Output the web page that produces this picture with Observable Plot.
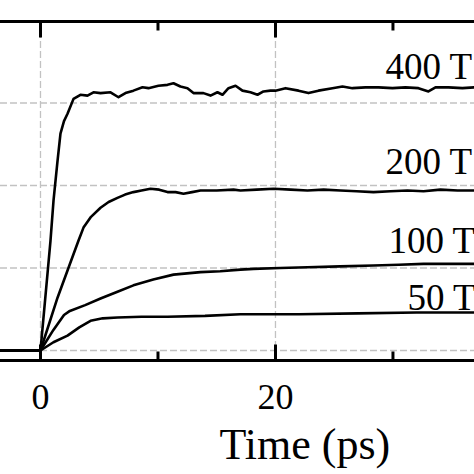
<!DOCTYPE html>
<html><head><meta charset="utf-8">
<script src="https://cdn.jsdelivr.net/npm/d3@7"></script>
<script src="https://cdn.jsdelivr.net/npm/@observablehq/plot@0.6"></script>
<style>
html,body{margin:0;padding:0;background:#fff;overflow:hidden;}
</style>
</head><body><div id="chart"></div>
<script>
// ---- data (time in ps, signal in arbitrary units) ----
const t400 = [-3.4, 0, 0.85, 1.11, 1.45, 1.70, 2.0, 2.30, 2.81, 3.40, 4.00, 4.51, 5.11, 5.96, 6.64, 7.23, 7.91, 8.68, 9.19, 10.04, 10.81, 11.32, 11.91, 12.51, 13.02, 13.87, 14.47, 15.06, 15.49, 16.00, 16.60, 17.19, 17.87, 18.47, 18.98, 19.57, 20.00, 20.85, 21.96, 22.81, 23.66, 24.85, 25.70, 26.55, 27.66, 28.77, 29.96, 31.06, 32.17, 33.02, 33.62, 34.72, 35.91, 36.94];
const v400 = [0, 0, 1.33, 1.82, 2.30, 2.63, 2.78, 2.87, 3.05, 3.10, 3.09, 3.13, 3.12, 3.13, 3.07, 3.12, 3.15, 3.19, 3.18, 3.21, 3.22, 3.24, 3.20, 3.18, 3.12, 3.12, 3.09, 3.13, 3.10, 3.18, 3.21, 3.15, 3.13, 3.10, 3.14, 3.15, 3.15, 3.18, 3.15, 3.12, 3.15, 3.18, 3.20, 3.18, 3.19, 3.19, 3.18, 3.19, 3.18, 3.14, 3.19, 3.19, 3.18, 3.19];

const t200 = [-3.4, 0, 1.45, 2.30, 3.23, 3.66, 4.3, 5.11, 5.8, 6.55, 7.2, 7.91, 8.6, 9.36, 10.1, 10.81, 11.5, 12.17, 12.9, 13.62, 15.0, 16.43, 17.02, 18.4, 19.83, 21.3, 22.72, 24.1, 25.53, 26.9, 28.34, 29.8, 31.23, 32.6, 34.04, 35.5, 36.94];
const v200 = [0, 0, 0.64, 0.97, 1.33, 1.49, 1.62, 1.73, 1.80, 1.85, 1.89, 1.92, 1.94, 1.96, 1.95, 1.92, 1.92, 1.90, 1.92, 1.94, 1.94, 1.95, 1.94, 1.95, 1.96, 1.95, 1.94, 1.95, 1.94, 1.93, 1.92, 1.93, 1.94, 1.93, 1.95, 1.94, 1.94];

const t100 = [-3.4, 0, 1.1, 2.0, 2.5, 3.8, 5.11, 6.5, 7.91, 9.6, 11.32, 13.62, 15.3, 17.02, 18.13, 20.4, 22.72, 25.5, 28.34, 30.5, 32.60, 34.8, 36.94];
const v100 = [0, 0, 0.25, 0.43, 0.48, 0.55, 0.63, 0.71, 0.79, 0.86, 0.92, 0.95, 0.96, 0.98, 0.99, 1.00, 1.01, 1.02, 1.03, 1.04, 1.05, 1.05, 1.05];

const t50 = [-3.4, 0, 1.1, 2.30, 3.3, 4.26, 5.3, 6.55, 8.6, 10.81, 14.0, 17.02, 22.0, 26.98, 32.0, 36.94];
const v50 = [0, 0, 0.10, 0.18, 0.28, 0.36, 0.39, 0.40, 0.41, 0.41, 0.42, 0.44, 0.44, 0.45, 0.46, 0.46];

const seriesNames = ["400 T", "200 T", "100 T", "50 T"];
const xTicksMajor = [0, 20, 40];
const xTickLabels = [0, 20];
const xTicksMinor = [10, 30];
const yGrid = [0, 1, 2, 3];
const xLabel = "Time (ps)";

// ---- build tables ----
const curves = [[t400, v400], [t200, v200], [t100, v100], [t50, v50]];
const rows = [];
curves.forEach(([ts, vs], i) => ts.forEach((t, j) => rows.push({series: seriesNames[i], t, v: vs[j]})));

// label anchors (data units)
const labelRows = [
  {text: "400 T", t: 29.36, v: 3.285},
  {text: "200 T", t: 29.36, v: 2.145},
  {text: "100 T", t: 29.62, v: 1.176},
  {text: "50 T",  t: 31.23, v: 0.497}
];

const xDomain = [-3.404, 36.94];
const yDomain = [-0.121, 3.988];
const xLabelCenter = 22.5;
const font = "Liberation Serif, Times New Roman, serif";
const frameH = 474 - 21 - 114;
const unitsPerPx = (yDomain[1] - yDomain[0]) / frameH;
const majorLen = 16 * unitsPerPx, minorLen = 9 * unitsPerPx;
const tickRows = [
  ...xTicksMajor.map(x => ({x, y1: yDomain[0], y2: yDomain[0] + majorLen})),
  ...xTicksMinor.map(x => ({x, y1: yDomain[0], y2: yDomain[0] + minorLen})),
  ...xTicksMajor.map(x => ({x, y1: yDomain[1], y2: yDomain[1] - majorLen})),
  ...xTicksMinor.map(x => ({x, y1: yDomain[1], y2: yDomain[1] - minorLen}))
];

const plot = Plot.plot({
  width: 474, height: 474,
  marginLeft: 0, marginRight: 0, marginTop: 21, marginBottom: 114,
  style: {fontFamily: font, background: "#fff", overflow: "visible"},
  x: {domain: xDomain, axis: null},
  y: {domain: yDomain, axis: null},
  marks: [
    Plot.gridX(xTicksMajor, {stroke: "#c2c2c2", strokeOpacity: 1, strokeWidth: 1.3, strokeDasharray: "7,3"}),
    Plot.gridY(yGrid, {stroke: "#c2c2c2", strokeOpacity: 1, strokeWidth: 1.3, strokeDasharray: "7,3"}),
    Plot.line(rows, {x: "t", y: "v", z: "series", stroke: "#000", strokeWidth: 2.6, strokeLinejoin: "round"}),
    Plot.link(tickRows, {x1: "x", x2: "x", y1: "y1", y2: "y2", stroke: "#000", strokeWidth: 3, strokeOpacity: 1}),
    Plot.ruleY([yDomain[0], yDomain[1]], {stroke: "#000", strokeWidth: 3}),
    Plot.text(xTickLabels, {x: d => d, text: d => String(d), frameAnchor: "bottom", dy: 48, lineAnchor: "bottom", fontSize: 36, fontFamily: font, fill: "#000"}),
    Plot.text([xLabel], {x: () => xLabelCenter, frameAnchor: "bottom", dy: 98, lineAnchor: "bottom", fontSize: 44, fontFamily: font, fill: "#000", text: d => d}),
    Plot.text(labelRows, {x: "t", y: "v", text: "text", textAnchor: "start", lineAnchor: "bottom", fontSize: 37, fontFamily: font, fill: "#000"})
  ]
});
document.getElementById("chart").appendChild(plot);
</script>
</body></html>
